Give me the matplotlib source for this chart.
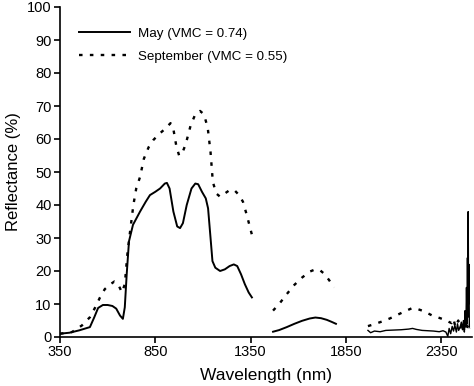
import matplotlib
matplotlib.use("Agg")
import matplotlib.pyplot as plt

# May (VMC = 0.74), solid, three spectral windows
may_wl_1 = [350, 400, 450, 507, 530, 550, 575, 600, 625, 645, 665, 680, 690, 700, 712, 733, 770, 800, 822, 850, 875,
            900, 911, 925, 945, 965, 980, 995, 1015, 1040, 1060, 1075, 1095, 1115, 1127, 1140, 1150, 1165, 1190, 1215,
            1240, 1262, 1280, 1300, 1320, 1340, 1357]
may_r_1 = [1.0, 1.3, 2.0, 3.0, 6.0, 8.8, 9.7, 9.7, 9.4, 8.6, 6.5, 5.5, 9.0, 19, 29, 34, 38, 41, 43, 44, 45,
           46.5, 46.7, 45, 38, 33.5, 33, 34.5, 40, 45, 46.5, 46.3, 44, 42, 39, 30, 23, 21, 20, 20.5,
           21.5, 22, 21.5, 19, 16, 13.5, 12]
may_wl_2 = [1468, 1500, 1540, 1580, 1620, 1660, 1690, 1720, 1750, 1775, 1798]
may_r_2 = [1.6, 2.1, 3.0, 4.0, 4.9, 5.6, 5.9, 5.7, 5.2, 4.6, 4.0]
may_wl_3 = [1966, 1980, 2000, 2030, 2060, 2100, 2140, 2180, 2200, 2220, 2250, 2280, 2310, 2340, 2360, 2375, 2385,
            2392, 2400, 2408, 2415, 2422, 2430, 2436, 2442, 2450, 2456, 2462, 2467, 2472, 2476, 2480, 2483, 2486,
            2488, 2490, 2492, 2494, 2496, 2498]
may_r_3 = [2.0, 1.3, 1.8, 1.6, 2.0, 2.1, 2.2, 2.4, 2.6, 2.3, 2.0, 1.9, 1.8, 1.6, 1.9, 1.5, 0.2,
           2.6, 1.0, 3.2, 1.8, 3.6, 1.5, 4.0, 2.0, 3.0, 4.5, 2.2, 5.0, 1.5, 8.0, 3.0, 15, 4.0,
           24, 6.0, 38, 10, 22, 3.0]

# September (VMC = 0.55), dotted
sep_wl_1 = [350, 413, 465, 507, 535, 560, 585, 610, 635, 655, 675, 690, 705, 720, 735, 750, 770, 790, 815, 840,
            870, 900, 930, 945, 960, 975, 990, 1010, 1035, 1060, 1085, 1105, 1125, 1140, 1152, 1170, 1190, 1215,
            1240, 1265, 1290, 1310, 1330, 1357]
sep_r_1 = [1.0, 1.5, 3.5, 6.0, 9.0, 12, 14.5, 15.8, 16.8, 16, 13.5, 16, 26, 33, 40, 45, 48.5, 54, 57.5, 59.7,
           61.5, 63, 64.8, 63, 58, 55, 55.5, 58.5, 64, 67.5, 68.5, 67.5, 63.5, 56, 47, 43.5, 42.5, 43.5,
           44.5, 44.5, 43, 41, 37, 31]
sep_wl_2 = [1468, 1500, 1540, 1580, 1620, 1660, 1690, 1715, 1740, 1765, 1788]
sep_r_2 = [8.0, 10.0, 13.0, 15.8, 18.0, 19.8, 20.5, 20.2, 19.0, 17.0, 15.0]
sep_wl_3 = [1966, 2000, 2040, 2080, 2120, 2160, 2200, 2230, 2260, 2300, 2340, 2370, 2390, 2405, 2415, 2425, 2440,
            2450, 2462, 2472, 2480, 2488, 2495, 2498]
sep_r_3 = [3.3, 3.9, 4.7, 5.6, 6.7, 7.8, 8.8, 8.4, 7.8, 6.6, 5.8, 5.2, 4.6, 4.2, 5.5, 3.0, 5.0,
           2.5, 4.5, 2.0, 5.5, 3.0, 4.0, 2.5]

plt.rcParams["font.family"] = ["Liberation Sans", "DejaVu Sans"]

fig = plt.figure(figsize=(4.74, 3.86), dpi=100)
ax = fig.add_axes([60 / 474, 49 / 386, 412 / 474, 330 / 386])

solid = dict(color="black", lw=1.4, solid_joinstyle="round")
dotted = dict(color="black", lw=1.7, linestyle=(0, (1.5, 3.1)))

ax.plot(may_wl_1, may_r_1, label="May (VMC = 0.74)", **solid)
ax.plot(may_wl_2, may_r_2, **solid)
ax.plot(may_wl_3, may_r_3, color="black", lw=1.0)
ax.plot(sep_wl_1, sep_r_1, label="September (VMC = 0.55)", **dotted)
ax.plot(sep_wl_2, sep_r_2, **dotted)
ax.plot(sep_wl_3, sep_r_3, **dotted)

ax.set_xlim(350, 2512)
ax.set_ylim(0, 100)
ax.set_xticks([350, 850, 1350, 1850, 2350])
ax.set_yticks(range(0, 101, 10))
for s in ["top", "right"]:
    ax.spines[s].set_visible(False)
for s in ["left", "bottom"]:
    ax.spines[s].set_linewidth(1.2)
ax.tick_params(direction="out", length=4, width=1.2, labelsize=10.5, pad=2)

ax.set_xlabel("Wavelength (nm)", fontsize=12.5, labelpad=6)
ax.set_ylabel("Reflectance (%)", fontsize=12, labelpad=4)

ax.legend(loc="upper left", bbox_to_anchor=(0.018, 0.975), frameon=False,
          fontsize=9.6, handlelength=3.8, handletextpad=0.6, labelspacing=0.8)

fig.savefig("out.png", dpi=100)
